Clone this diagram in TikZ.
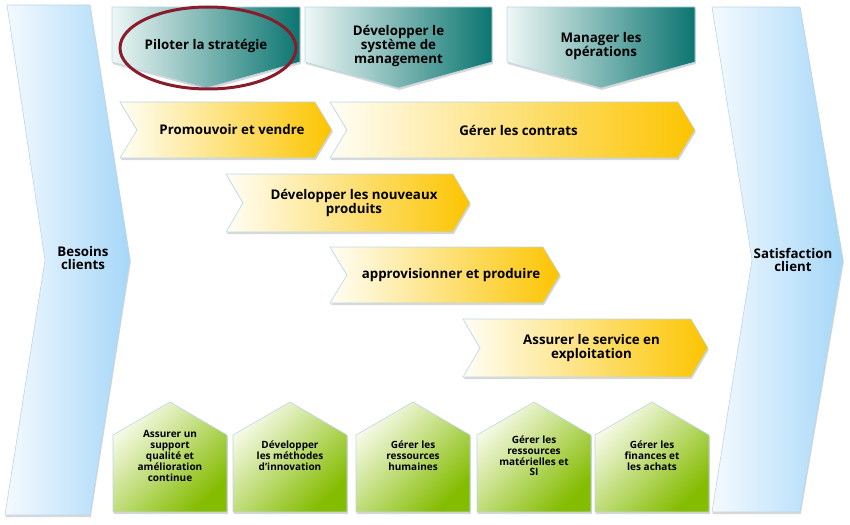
\documentclass[tikz,border=0pt]{standalone}
\usepackage{fontspec}
\setmainfont{Open Sans}
\usetikzlibrary{shadows}

\definecolor{tealdark}{HTML}{0B7570}
\definecolor{tealpale}{HTML}{EEF7F6}
\definecolor{gold}{HTML}{FCC400}
\definecolor{goldpale}{HTML}{FFFEF6}
\definecolor{greendark}{HTML}{84BC00}
\definecolor{greenpale}{HTML}{F8FBEA}
\definecolor{skyblue}{HTML}{A6D7F8}
\definecolor{skypale}{HTML}{F4FAFF}
\definecolor{edgeblue}{HTML}{BCD6E6}
\definecolor{ringred}{HTML}{8A1B2B}

\begin{document}
\begin{tikzpicture}[x=1pt,y=-1pt]
\tikzset{every node/.style={font=\bfseries\fontsize{13.3}{13.6}\selectfont,align=center,inner sep=0pt}}
\tikzset{flow/.style={draw=edgeblue,line width=0.6pt,drop shadow={shadow xshift=0.8pt,shadow yshift=-2pt,fill=black!30}}}
\tikzset{sky arrow/.style={flow,left color=skypale,right color=skyblue}}
\tikzset{teal box/.style={flow,left color=tealpale,right color=tealdark}}
\tikzset{gold arrow/.style={flow,left color=goldpale,right color=gold}}
\tikzset{green house/.style={flow,top color=greenpale,bottom color=greendark,shading angle=45}}
\tikzset{small/.style={font=\bfseries\fontsize{10}{10.8}\selectfont}}
\tikzset{ring/.style={draw=ringred,line width=3pt}}

\useasboundingbox (0,0) rectangle (850,524);

% clients
\path[sky arrow] (7,5) -- (90,5) -- (130,260) -- (90,515) -- (5,515) -- (45,260) -- cycle;
\node (besoins) at (83,258) {Besoins\\clients};
\path[sky arrow] (712,7) -- (800,7) -- (843,260) -- (800,512) -- (712,512) -- (752,260) -- cycle;
\node (satisfaction) at (793,260) {Satisfaction\\client};

% management
\foreach \xl/\xr/\name/\txt in {112/300/piloter/Piloter la stratégie, 305/492/systeme/{Développer le\\système de\\management}, 507/695/operations/{Manager les\\opérations}}{
  \path[teal box] (\xl,7) -- (\xr,7) -- (\xr,62) -- ({(\xl+\xr)/2},88) -- (\xl,62) -- cycle;
  \node (\name) at ({(\xl+\xr)/2},46) {\txt};
}
\draw[ring] (piloter) ++(2,2) ellipse [x radius=88,y radius=41];

% realisation
\foreach \xa/\xb/\ya/\yb/\name/\txt in {120/332/102/158/vendre/Promouvoir et vendre, 330/695/102/158/contrats/Gérer les contrats, 226/470/174/232/produits/{Développer les nouveaux\\produits}, 330/560/247/303/produire/approvisionner et produire, 463/708/319/377/service/{Assurer le service en\\exploitation}}{
  \path[gold arrow] (\xa,\ya) -- ({\xb-17},\ya) -- (\xb,{(\ya+\yb)/2}) -- ({\xb-17},\yb) -- (\xa,\yb) -- ({\xa+17},{(\ya+\yb)/2}) -- cycle;
  \node (\name) at ({(\xa+\xb)/2+6},{(\ya+\yb)/2}) {\txt};
}

% support
\foreach \xl/\name/\txt in {113/qualite/{Assurer un\\support\\qualité et\\amélioration\\continue}, 233/innovation/{Développer\\les méthodes\\d'innovation}, 356/humaines/{Gérer les\\ressources\\humaines}, 477/materielles/{Gérer les\\ressources\\matérielles et\\SI}, 595/finances/{Gérer les\\finances et\\les achats}}{
  \path[green house] (\xl,512) -- (\xl,435) -- ({\xl+57},402) -- ({\xl+114},435) -- ({\xl+114},512) -- cycle;
  \node[small] (\name) at ({\xl+57},456) {\txt};
}
\end{tikzpicture}
\end{document}
